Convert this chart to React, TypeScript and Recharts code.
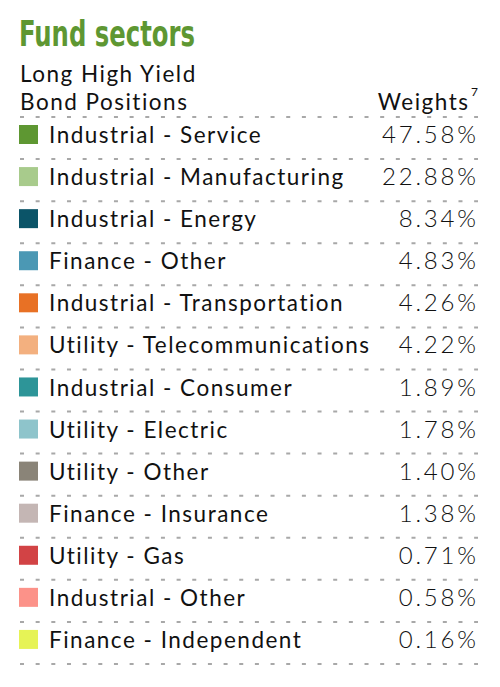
import { BarChart, Bar, XAxis, YAxis } from "recharts";

const sectors = [
  "Industrial - Service",
  "Industrial - Manufacturing",
  "Industrial - Energy",
  "Finance - Other",
  "Industrial - Transportation",
  "Utility - Telecommunications",
  "Industrial - Consumer",
  "Utility - Electric",
  "Utility - Other",
  "Finance - Insurance",
  "Utility - Gas",
  "Industrial - Other",
  "Finance - Independent",
];

const weights = [47.58, 22.88, 8.34, 4.83, 4.26, 4.22, 1.89, 1.78, 1.4, 1.38, 0.71, 0.58, 0.16];

const colors = [
  "#5e9732",
  "#a8cb8c",
  "#0b5468",
  "#4b98b4",
  "#e87125",
  "#f3b07f",
  "#2d9598",
  "#8ec4cb",
  "#8a8478",
  "#c4b6b4",
  "#d24345",
  "#fc9289",
  "#e6f356",
];

const data = sectors.map((sector, i) => ({ sector, weight: weights[i], color: colors[i] }));

const W = 500;
const H = 687;
const TOP = 117;
const BOTTOM = 23;
const BAND = (H - TOP - BOTTOM) / sectors.length;
const FONT = "Lato, 'Open Sans', sans-serif";
const TEXT = { fontSize: 22.5, fontFamily: FONT, fill: "#111", letterSpacing: 1.5 };
const VALUE = { fontSize: 24, fontFamily: FONT, fontWeight: 300, fill: "#111", letterSpacing: 2.8 };
const DOT = { stroke: "#a8a8a8", strokeWidth: 2, strokeDasharray: "4 11.66" };

const RowTick = (props: any) => {
  const { y, payload, index } = props;
  const row = data[index];
  return (
    <g>
      {index === 0 && <line x1={20} x2={478} y1={y - BAND / 2} y2={y - BAND / 2} {...DOT} />}
      <text x={49} y={y + 5} {...TEXT}>
        {payload.value}
      </text>
      <text x={478.8} y={y + 5} {...VALUE} textAnchor="end">
        {row.weight.toFixed(2)}%
      </text>
      <line x1={20} x2={478} y1={y + BAND / 2} y2={y + BAND / 2} {...DOT} />
    </g>
  );
};

const Swatch = (props: any) => {
  const { y, height, payload } = props;
  const cy = y + height / 2 - 4;
  return <rect x={19} y={cy - 9.5} width={19} height={19} fill={payload.color} />;
};

export default function App() {
  return (
    <div style={{ position: "absolute", left: 0, top: 0, width: W, height: H, background: "#fff" }}>
      <svg width={W} height={TOP} style={{ position: "absolute", left: 0, top: 0 }}>
        <text
          x={19}
          y={46}
          fontSize={36}
          fontWeight="bold"
          fontFamily="'Liberation Sans Narrow', 'DejaVu Sans Condensed', sans-serif"
          fill="#5e9732"
          textLength={176}
          lengthAdjust="spacingAndGlyphs"
        >
          Fund sectors
        </text>
        <text x={20} y={82} {...TEXT}>
          Long High Yield
        </text>
        <text x={20} y={110} {...TEXT}>
          Bond Positions
        </text>
        <text x={469.5} y={110} {...TEXT} textAnchor="end">
          Weights
        </text>
        <text x={471} y={96} fontSize={12} fontFamily={FONT} fill="#111">
          7
        </text>
      </svg>
      <BarChart
        width={W}
        height={H}
        data={data}
        layout="vertical"
        margin={{ top: TOP, bottom: BOTTOM, left: 0, right: 0 }}
        barCategoryGap={0}
      >
        <XAxis type="number" hide domain={[0, "dataMax"]} />
        <YAxis
          type="category"
          dataKey="sector"
          width={1}
          axisLine={false}
          tickLine={false}
          interval={0}
          tick={<RowTick />}
        />
        <Bar dataKey="weight" barSize={19} shape={<Swatch />} isAnimationActive={false} />
      </BarChart>
    </div>
  );
}
